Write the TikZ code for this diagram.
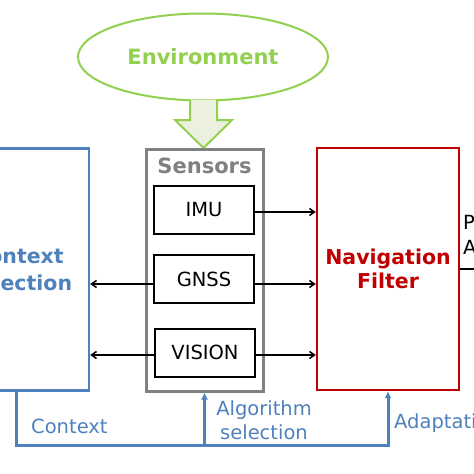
\documentclass[tikz,border=0pt]{standalone}
\usepackage{fontspec}
\setmainfont{DejaVu Sans}
\usetikzlibrary{shapes.geometric,arrows.meta}
\definecolor{cblue}{HTML}{4F81BD}
\definecolor{cred}{HTML}{C00000}
\definecolor{cgreen}{HTML}{92D050}
\definecolor{cgray}{HTML}{808080}
\definecolor{cfill}{HTML}{EBF1DE}
\begin{document}
\begin{tikzpicture}[x=1pt,y=-1pt,
  every node/.style={font=\fontsize{19.5}{24}\selectfont, inner sep=0pt},
  bigbox/.style={draw, line width=2.4pt, minimum width=142pt, minimum height=242pt, align=center},
  sensbox/.style={draw=black, line width=2pt, minimum width=100pt, minimum height=48pt},
  sig/.style={line width=1.5pt, -{Straight Barb[length=5pt,width=7pt]}},
  fb/.style={draw=cblue, line width=3pt, -{Latex[length=7pt,width=7pt]}},
  lbl/.style={text=cblue}]
\useasboundingbox (0,0) rectangle (474,474);
\fill[white] (0,0) rectangle (474,474);
% environment
\node[ellipse, draw=cgreen, line width=2pt, minimum width=250pt, minimum height=87pt,
      text=cgreen, font=\fontsize{21}{24}\selectfont\bfseries] (env) at (203,57) {Environment};
% block arrow
\draw[draw=cgreen, fill=cfill, line width=2pt, line join=miter]
  (190,100) -- (190,120) -- (175,120) -- (203.5,148) -- (232,120) -- (217,120) -- (217,100);
% boxes
\node[bigbox, draw=cblue] (ctx) at (18,269.5) {};
\node[text=cblue, font=\fontsize{20.5}{27}\selectfont\bfseries, align=center] (ctxlbl) at (18.5,270) {Context\\Selection};
\node[bigbox, draw=cred, text=cred, font=\fontsize{20.5}{24}\selectfont\bfseries] (nav) at (388,269) {Navigation\\Filter};
\node[draw=cgray, line width=3pt, minimum width=117pt, minimum height=242pt] (sens) at (204.5,270) {};
\node[text=cgray, font=\fontsize{21}{24}\selectfont\bfseries] (senslbl) at (204.5,166) {Sensors};
\node[sensbox] (imu) at (204,210) {IMU};
\node[sensbox] (gnss) at (204,279) {GNSS};
\node[sensbox] (vis) at (205,352.5) {VISION};
% signals
\draw[sig] ([yshift=-2pt]imu.east) -- ([yshift=-2pt]imu.east -| nav.west);
\draw[sig] ([yshift=-5pt]gnss.east) -- ([yshift=-5pt]gnss.east -| nav.west);
\draw[sig] ([yshift=-2.5pt]vis.east) -- ([yshift=-2.5pt]vis.east -| nav.west);
\draw[sig] ([yshift=-5pt]gnss.west) -- ([yshift=-5pt]gnss.west -| ctx.east);
\draw[sig] ([yshift=-2.5pt]vis.west) -- ([yshift=-2.5pt]vis.west -| ctx.east);
% output
\coordinate (out) at (480,269);
\draw[line width=1.5pt] (nav.east) -- (out);
\node[anchor=west] (p) at (463,222) {P};
\node[anchor=west] (a) at (463,247) {A};
% feedback
\coordinate (base) at (0,445);
\draw[fb, line join=miter] ([xshift=-2pt]ctx.south) |- (base -| nav.south) -- (nav.south);
\draw[fb] (base -| sens.south) -- (sens.south);
\node[lbl, anchor=west] (lctx) at (31,426) {Context};
\node[lbl, align=center] (lalg) at (264,420) {Algorithm\\selection};
\node[lbl, anchor=west] (lada) at (394,423) {Adaptation};
\end{tikzpicture}
\end{document}
